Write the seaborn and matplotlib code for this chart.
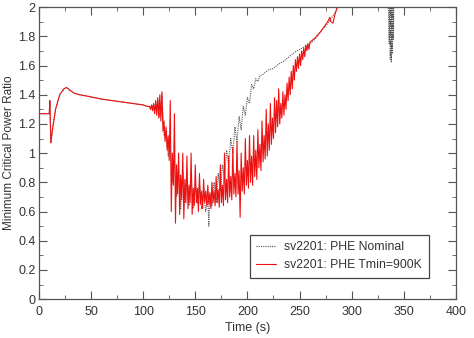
import numpy as np
import pandas as pd
import matplotlib
matplotlib.use("Agg")
import matplotlib.pyplot as plt
import seaborn as sns
from matplotlib.ticker import MultipleLocator, FuncFormatter

# ---- data ----
# common smooth start (both cases identical)
t_start = [0, 5, 10, 10.5, 11.5, 13, 16, 20, 24, 26.5, 30, 34, 39, 50, 60, 70, 80, 90, 100, 104]
v_start = [1.27, 1.27, 1.27, 1.36, 1.07, 1.16, 1.30, 1.40, 1.44, 1.45, 1.43, 1.41, 1.40, 1.385, 1.37, 1.36, 1.35, 1.34, 1.33, 1.32]

# Tmin = 900K oscillating part (1 s step from 106 s)
t_red_osc = list(range(106, 261))
v_red_osc = [
    1.32, 1.30, 1.33, 1.29, 1.34, 1.27, 1.36, 1.26, 1.38, 1.24,
    1.40, 1.22, 1.42, 1.15, 1.22, 1.08, 1.18, 1.02, 1.12, 0.95,
    1.36, 0.60, 1.00, 0.78, 1.27, 0.52, 0.92, 0.72, 1.00, 0.58,
    0.85, 0.68, 1.00, 0.55, 0.82, 0.66, 0.98, 0.62, 0.78, 0.66,
    1.00, 0.58, 0.76, 0.64, 0.92, 0.66, 0.76, 0.60, 0.86, 0.65,
    0.74, 0.62, 0.82, 0.66, 0.74, 0.64, 0.78, 0.65, 0.73, 0.62,
    0.80, 0.66, 0.74, 0.64, 0.84, 0.66, 0.75, 0.63, 0.92, 0.66,
    0.78, 0.64, 1.00, 0.68, 0.82, 0.66, 0.98, 0.70, 0.84, 0.68,
    1.04, 0.72, 0.86, 0.70, 1.08, 0.72, 0.88, 0.56, 1.00, 0.74,
    0.90, 0.72, 1.10, 0.78, 0.95, 0.76, 1.12, 0.80, 0.98, 0.78,
    1.12, 0.84, 1.02, 0.82, 1.16, 0.90, 1.06, 0.88, 1.22, 0.94,
    1.12, 0.96, 1.30, 0.98, 1.20, 1.02, 1.34, 1.06, 1.24, 1.10,
    1.38, 1.14, 1.36, 1.18, 1.44, 1.20, 1.34, 1.24, 1.42, 1.26,
    1.40, 1.30, 1.48, 1.36, 1.52, 1.40, 1.56, 1.44, 1.60, 1.50,
    1.64, 1.56, 1.66, 1.58, 1.68, 1.60, 1.70, 1.64, 1.72, 1.66,
    1.74, 1.70, 1.75, 1.71, 1.76,
]
t_red_end = [265, 270, 274, 277, 279, 280, 282, 284, 286, 288, 292]
v_red_end = [1.79, 1.83, 1.87, 1.90, 1.93, 1.90, 1.89, 1.95, 2.00, 2.08, 2.20]

# Nominal case after the common start
t_nom = [106, 108, 110, 112, 114, 116, 118, 120, 122, 124, 126, 128, 130, 132, 134,
         136, 138, 140, 142, 144, 146, 148, 150, 152, 154, 156, 158, 160, 162, 163,
         164, 166, 168, 170, 172, 174, 176, 178, 180, 182, 184, 186, 188, 190, 192,
         194, 196, 198, 200, 202, 204, 206, 208, 210, 212, 215, 220, 225, 230, 235,
         240, 245, 250, 255, 260, 265, 270, 275, 280, 284, 287, 290, 300, 334, 336,
         336.5, 337, 337.5, 338, 338.5, 339, 339.5, 340, 341]
v_nom = [1.32, 1.31, 1.33, 1.30, 1.36, 1.25, 1.40, 1.12, 1.15, 0.98, 1.05, 0.80, 0.95, 0.70, 0.90,
         0.62, 0.88, 0.66, 0.80, 0.64, 0.86, 0.62, 0.78, 0.66, 0.80, 0.62, 0.72, 0.60, 0.68, 0.50,
         0.72, 0.64, 0.80, 0.66, 0.86, 0.74, 0.92, 0.82, 1.02, 0.92, 1.10, 1.00, 1.18, 1.08, 1.25,
         1.16, 1.32, 1.26, 1.38, 1.34, 1.47, 1.44, 1.51, 1.49, 1.53, 1.54, 1.57, 1.58, 1.61, 1.63,
         1.66, 1.69, 1.71, 1.73, 1.75, 1.78, 1.83, 1.87, 1.92, 1.96, 2.00, 2.06, 2.20, 2.30, 1.75,
         2.20, 1.64, 2.20, 1.62, 2.20, 1.68, 2.20, 1.78, 2.30]

label_nom = "sv2201: PHE Nominal"
label_red = "sv2201: PHE Tmin=900K"

x_ticks = [0, 50, 100, 150, 200, 250, 300, 350, 400]
y_ticks = [0, 0.2, 0.4, 0.6, 0.8, 1.0, 1.2, 1.4, 1.6, 1.8, 2.0]

df_nom = pd.DataFrame({"t": t_start + t_nom, "v": v_start + v_nom})
df_red = pd.DataFrame({"t": t_start + t_red_osc + t_red_end,
                       "v": v_start + v_red_osc + v_red_end})

# ---- plot ----
sns.set_theme(style="ticks")
plt.rcParams["font.family"] = ["Liberation Sans", "DejaVu Sans"]
txt = "#333333"

fig = plt.figure(figsize=(4.74, 3.38), dpi=100)
ax = fig.add_axes([0.082, 0.115, 0.962 - 0.082, 0.979 - 0.115])

sns.lineplot(data=df_nom, x="t", y="v", ax=ax, sort=False, estimator=None,
             color="#555555", lw=0.8, linestyle=(0, (1, 1)), label=label_nom)
sns.lineplot(data=df_red, x="t", y="v", ax=ax, sort=False, estimator=None,
             color="#ee1111", lw=0.8, label=label_red)

ax.set_xlim(0, 400)
ax.set_ylim(0, 2)
ax.set_xticks(x_ticks)
ax.set_yticks(y_ticks)
ax.xaxis.set_minor_locator(MultipleLocator(25))
ax.yaxis.set_minor_locator(MultipleLocator(0.1))
ax.yaxis.set_major_formatter(FuncFormatter(lambda v, p: "%g" % round(v, 2)))
ax.tick_params(which="both", direction="in", top=True, right=True,
               colors="#555555", labelcolor=txt, labelsize=9)
ax.tick_params(axis="y", pad=2.5)
ax.tick_params(axis="x", pad=5)
ax.tick_params(which="major", length=6, width=0.8)
ax.tick_params(which="minor", length=3, width=0.6)
for s in ax.spines.values():
    s.set_color("#555555")
    s.set_linewidth(0.9)

ax.set_xlabel("Time (s)", fontsize=9, color=txt, labelpad=3)
ax.set_ylabel("Minimum Critical Power Ratio", fontsize=8.5, color=txt, labelpad=2)

leg = ax.legend(loc="lower left", bbox_to_anchor=(0.505, 0.072), fontsize=8.8,
                fancybox=False, framealpha=1, edgecolor="#444444",
                handlelength=1.6, handletextpad=0.7, borderpad=0.55,
                labelspacing=0.5, borderaxespad=0)
for t in leg.get_texts():
    t.set_color(txt)
leg.get_frame().set_linewidth(0.9)

fig.savefig("out.png", dpi=100)
